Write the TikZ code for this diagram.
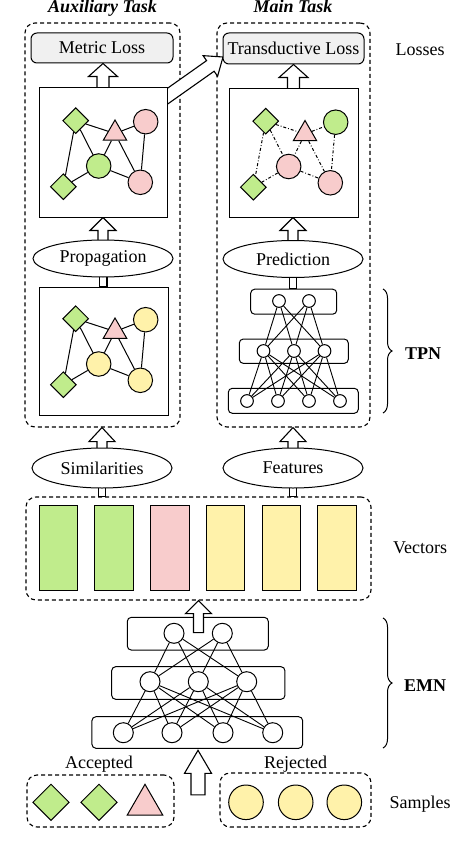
\documentclass[tikz,border=0pt]{standalone}
\usepackage{fontspec}
\setmainfont{Liberation Serif}
\usetikzlibrary{shapes.geometric,calc,decorations.pathreplacing}
\pgfdeclarelayer{back}
\pgfdeclarelayer{bg}
\pgfsetlayers{back,bg,main}
\definecolor{cgreen}{RGB}{192,236,140}
\definecolor{cpink}{RGB}{248,204,204}
\definecolor{cyellow}{RGB}{255,242,170}
\definecolor{cgray}{RGB}{240,240,240}
% hollow arrow: #1 prefix, #2 tail, #3 tip, #4 shaft half, #5 head half, #6 head length
\newcommand\hollowarrow[6]{%
  \coordinate (#1S) at (#2);
  \coordinate (#1T) at (#3);
  \coordinate (#1H) at ($(#1T)!#6!(#1S)$);
  \draw[harrow] (#1T) -- ($(#1H)!#5!90:(#1T)$) -- ($(#1H)!#4!90:(#1T)$)
     -- ($(#1S)!#4!90:(#1T)$) -- ($(#1S)!#4!-90:(#1T)$)
     -- ($(#1H)!#4!-90:(#1T)$) -- ($(#1H)!#5!-90:(#1T)$) -- cycle;
}
% graph: #1 prefix, #2 dx, #3 dy, #4 TR fill, #5 M fill, #6 BR fill, #7 edge style
\newcommand\mygraph[7]{%
  \begin{scope}[shift={(#2,#3)}]
    \node[gdia] (#1a) at (75.7,120.7) {};
    \node[gtri] (#1b) at (115,133.5) {};
    \node[gcirc, fill=#4] (#1c) at (145.7,121.7) {};
    \node[gcirc, fill=#5] (#1d) at (98.7,166) {};
    \node[gcirc, fill=#6] (#1e) at (140.3,182.3) {};
    \node[gdia] (#1f) at (63.3,186.7) {};
    \draw[line width=1pt, #7] (#1a)--(#1b) (#1a)--(#1d) (#1a)--(#1f) (#1b)--(#1c) (#1b)--(#1d)
      (#1b)--(#1e) (#1c)--(#1e) (#1d)--(#1e) (#1d)--(#1f);
  \end{scope}
}
\begin{document}
\begin{tikzpicture}[x=1pt,y=-1pt,
  lw/.style={line width=1pt},
  txt/.style={font=\fontsize{18pt}{20pt}\selectfont},
  dbox/.style={draw, line width=1.1pt, dash pattern=on 4pt off 3pt, rounded corners=10pt, inner sep=0pt},
  lossbox/.style={draw, lw, fill=cgray, rounded corners=6pt, inner sep=0pt, txt},
  gbox/.style={draw, lw, fill=white, inner sep=0pt},
  oval/.style={draw, lw, fill=white, ellipse, minimum width=140pt, inner sep=0pt, txt},
  gdia/.style={diamond, draw, lw, fill=cgreen, minimum size=26pt, inner sep=0pt},
  gtri/.style={regular polygon, regular polygon sides=3, draw, lw, fill=cpink, minimum size=27pt, inner sep=0pt},
  gcirc/.style={circle, draw, lw, minimum size=24.5pt, inner sep=0pt},
  layerbox/.style={draw, lw, fill=white, rounded corners=4pt, inner sep=0pt},
  neuron/.style={circle, draw, lw, fill=white, inner sep=0pt},
  vec/.style={draw, lw, minimum width=38.5pt, minimum height=85pt, inner sep=0pt},
  harrow/.style={draw, line width=1.1pt, fill=white, line join=miter},
  wire/.style={line width=0.9pt},
  dd/.style={dash pattern=on 3pt off 2pt on 0.8pt off 2pt},
  bracestyle/.style={decorate, decoration={brace, amplitude=9pt}, line width=1pt},
  ]
\useasboundingbox (0,0) rectangle (474,853);
% dashed boxes
\begin{pgfonlayer}{back}
  \node[dbox, minimum width=155pt, minimum height=404pt] (auxbox) at (102.5,225) {};
  \node[dbox, minimum width=153pt, minimum height=404pt] (mainbox) at (293.5,225) {};
  \node[dbox, minimum width=345pt, minimum height=103pt] (vecbox) at (198.5,548.5) {};
  \node[dbox, minimum width=147pt, minimum height=52pt] (accbox) at (100.5,801) {};
  \node[dbox, minimum width=151pt, minimum height=54pt] (rejbox) at (295.5,800) {};
\end{pgfonlayer}

% titles
\node[font=\fontsize{18pt}{20pt}\selectfont\bfseries\itshape, anchor=base] (ttaux) at (102.5,12.5) {Auxiliary Task};
\node[font=\fontsize{18pt}{20pt}\selectfont\bfseries\itshape, anchor=base] (ttmain) at (293,12.5) {Main Task};

% losses
\node[lossbox, minimum width=142pt, minimum height=30pt] (mloss) at (102,48) {Metric Loss};
\node[lossbox, minimum width=141pt, minimum height=31pt] (tloss) at (293.5,48.5) {Transductive Loss};

% graph boxes
\node[gbox, minimum width=128pt, minimum height=129pt] (g1) at (103,152.5) {};
\node[gbox, minimum width=129pt, minimum height=128pt] (g2) at (293.5,153) {};
\node[gbox, minimum width=129pt, minimum height=128pt] (g3) at (103.5,351) {};

\mygraph{ga}{0}{0}{cpink}{cgreen}{cpink}{solid}
\mygraph{gb}{190}{0.5}{cgreen}{cpink}{cpink}{dd}
\mygraph{gc}{0}{198}{cyellow}{cyellow}{cyellow}{solid}

% ellipses
\node[oval, minimum height=37pt] (prop) at (103,258.5) {Propagation};
\node[oval, minimum height=37pt] (pred) at (293,259) {Prediction};
\node[oval, minimum height=40pt] (sim) at (102,468) {Similarities};
\node[oval, minimum height=40pt] (feat) at (293,468) {Features};

% TPN
\node[layerbox, minimum width=86pt, minimum height=25pt] (t1) at (293.7,301.7) {};
\node[layerbox, minimum width=109pt, minimum height=24.3pt] (t2) at (293.8,351.2) {};
\node[layerbox, minimum width=130pt, minimum height=25pt] (t3) at (293.3,400.8) {};
\foreach \x [count=\i] in {279,309} \node[neuron, minimum size=12.7pt] (t1n\i) at (\x,301) {};
\foreach \x [count=\i] in {263.5,294,324.5} \node[neuron, minimum size=12.7pt] (t2n\i) at (\x,351) {};
\foreach \x [count=\i] in {247,278,309,340} \node[neuron, minimum size=12.7pt] (t3n\i) at (\x,401) {};
\foreach \i in {1,2} \foreach \j in {1,2,3} \draw[wire] (t1n\i) -- (t2n\j);
\foreach \i in {1,2,3} \foreach \j in {1,2,3,4} \draw[wire] (t2n\i) -- (t3n\j);

% vectors
\foreach \c [count=\i] in {cgreen,cgreen,cpink,cyellow,cyellow,cyellow}
  \node[vec, fill=\c] (v\i) at ({58.5+55.7*(\i-1)},548.3) {};

% EMN
\node[layerbox, minimum width=141pt, minimum height=32.7pt] (e1) at (197.8,633.7) {};
\node[layerbox, minimum width=173.3pt, minimum height=32.6pt] (e2) at (198.3,683) {};
\node[layerbox, minimum width=210.7pt, minimum height=31.6pt] (e3) at (197.3,732.5) {};
\foreach \x [count=\i] in {174,222.3} \node[neuron, minimum size=20pt] (e1n\i) at (\x,633.3) {};
\foreach \x [count=\i] in {150,198.3,246.7} \node[neuron, minimum size=20pt] (e2n\i) at (\x,681.7) {};
\foreach \x [count=\i] in {123.3,172,223,272.7} \node[neuron, minimum size=20pt] (e3n\i) at (\x,732.7) {};
\foreach \i in {1,2} \foreach \j in {1,2,3} \draw[wire] (e1n\i) -- (e2n\j);
\foreach \i in {1,2,3} \foreach \j in {1,2,3,4} \draw[wire] (e2n\i) -- (e3n\j);

% samples
\node[gdia, minimum size=36.6pt] (s1) at (51,802.3) {};
\node[gdia, minimum size=36.6pt] (s2) at (99,802.3) {};
\node[gtri, minimum size=41.2pt] (s3) at (145,804.9) {};
\node[gcirc, fill=cyellow, minimum size=34.6pt] (s4) at (246,802.3) {};
\node[gcirc, fill=cyellow, minimum size=34.6pt] (s5) at (295.7,802.3) {};
\node[gcirc, fill=cyellow, minimum size=34.6pt] (s6) at (344.3,802.3) {};

% arrows behind boxes
\begin{pgfonlayer}{bg}
  \hollowarrow{a1}{g1.center}{g1.north |- mloss.south}{6pt}{14.5pt}{13pt}
  \hollowarrow{a2}{g2.center}{g2.north |- tloss.south}{6pt}{14.5pt}{13pt}
  \hollowarrow{a3}{prop.center}{prop.center |- g1.south}{5pt}{13pt}{13pt}
  \hollowarrow{a4}{pred.center}{pred.center |- g2.south}{5pt}{13pt}{13pt}
  \hollowarrow{a6}{sim.center}{sim.center |- auxbox.south}{5pt}{13pt}{14pt}
  \hollowarrow{a7}{feat.center}{feat.center |- mainbox.south}{5pt}{13pt}{14pt}
  \coordinate (dtail) at (160,101.5);
  \coordinate (dtip) at (223,57);
  \hollowarrow{a5}{dtail}{dtip}{6.5pt}{12.6pt}{15.5pt}
  \draw[harrow] ($(prop.center)+(-3.5,0)$) rectangle ($(g3.north)+(3.5,0)$);
  \draw[harrow] ($(pred.center)+(-3.7,0)$) rectangle ($(pred.center |- t1.north)+(3.7,0)$);
  \draw[harrow] ($(sim.center)+(-3.7,0)$) rectangle ($(sim.center |- vecbox.north)+(3.7,0)$);
  \draw[harrow] ($(feat.center)+(-3.7,0)$) rectangle ($(feat.center |- vecbox.north)+(3.7,0)$);
\end{pgfonlayer}

% arrows on top
\coordinate (emtail) at ($(vecbox.south)+(0,32)$);
\hollowarrow{a8}{emtail}{vecbox.south}{5pt}{13pt}{13pt}
\coordinate (smtail) at ($(e3.south)+(0.7,46)$);
\coordinate (smtip) at ($(e3.south)+(0.7,1.5)$);
\hollowarrow{a9}{smtail}{smtip}{7pt}{13.5pt}{23pt}

% braces
\coordinate (b1a) at (383,289);
\coordinate (b1b) at (383,413);
\coordinate (b2a) at (383,618);
\coordinate (b2b) at (383,748);
\draw[bracestyle] (b1a) -- (b1b);
\draw[bracestyle] (b2a) -- (b2b);

% side labels
\node[txt, anchor=base] (llosses) at (420,56) {Losses};
\node[txt, anchor=base, font=\fontsize{18pt}{20pt}\selectfont\bfseries] (ltpn) at (423,359) {TPN};
\node[txt, anchor=base] (lvec) at (420,553) {Vectors};
\node[txt, anchor=base, font=\fontsize{18pt}{20pt}\selectfont\bfseries] (lemn) at (425,691.5) {EMN};
\node[txt, anchor=base] (lsamp) at (420,808) {Samples};
\node[txt, anchor=base] (lacc) at (99,768) {Accepted};
\node[txt, anchor=base] (lrej) at (295.7,768) {Rejected};
\end{tikzpicture}
\end{document}
